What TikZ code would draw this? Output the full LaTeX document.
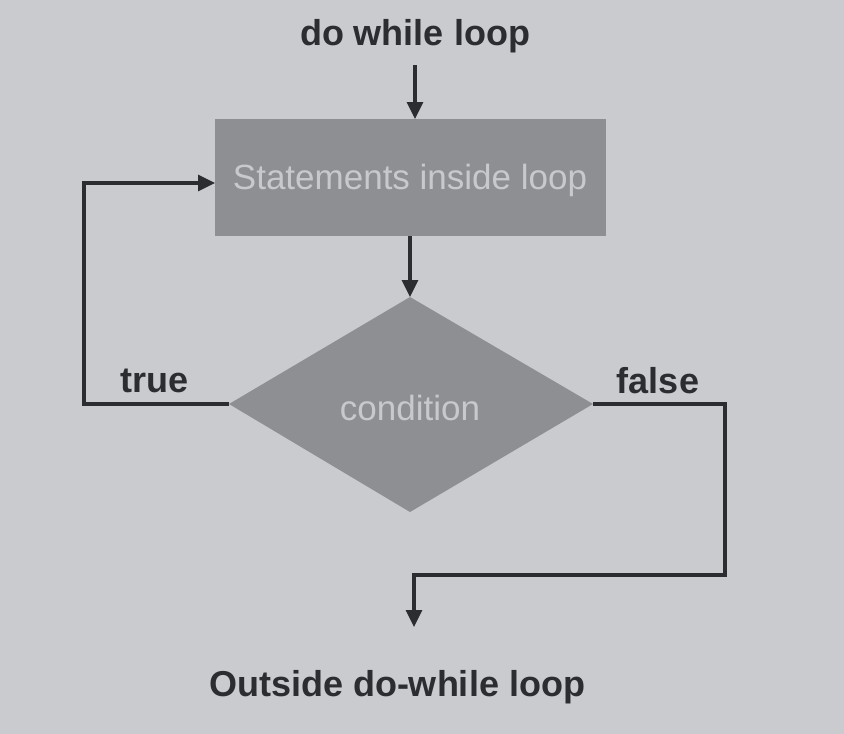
\documentclass[tikz,border=0pt]{standalone}
\usepackage{fontspec}
\setmainfont{Liberation Sans}
\usetikzlibrary{arrows.meta,shapes.geometric}
\definecolor{bg}{HTML}{CACBCE}
\definecolor{boxfill}{HTML}{8E8F92}
\definecolor{boxtext}{HTML}{C8C9CC}
\definecolor{ink}{HTML}{2B2D30}
\tikzset{
  lbl/.style={text=ink,font=\fontsize{36}{40}\selectfont\bfseries,inner sep=0pt},
  intext/.style={text=boxtext,font=\fontsize{35}{38}\selectfont,inner sep=0pt},
  conn/.style={draw=ink,line width=3.2pt},
  arr/.style={conn,-{Triangle[width=16pt,length=17pt]}},
}
\begin{document}
\begin{tikzpicture}[x=1pt,y=-1pt]
\fill[bg] (0,0) rectangle (844,734);
\useasboundingbox (0,0) rectangle (844,734);
\node[lbl] (title) at (415,36) {do while loop};
\coordinate (tstart) at (415,65);
\fill[boxfill] (215,119) rectangle (606,236);
\node[intext] (stmt) at (410,180) {Statements inside loop};
\coordinate (boxtop) at (415,119);
\coordinate (boxbot) at (410,236);
\coordinate (boxleft) at (215,183);
\fill[boxfill] (410,297) -- (593,404) -- (410,512) -- (229,404) -- cycle;
\node[intext] (cond) at (410,408) {condition};
\coordinate (dtop) at (410,297);
\coordinate (dleft) at (229,404);
\coordinate (dright) at (593,404);
\coordinate (lc1) at (84,404);
\coordinate (lc2) at (84,183);
\coordinate (rc1) at (725,404);
\coordinate (rc2) at (725,575);
\coordinate (rc3) at (414,575);
\coordinate (outarr) at (414,627);
\node[lbl] (true) at (155,381) {true};
\node[lbl] (false) at (658,381) {false};
\node[lbl] (out) at (397,687) {Outside do-while loop};
\draw[arr] (tstart) -- (boxtop);
\draw[arr] (boxbot) -- (dtop);
\draw[arr] (dleft) -- (lc1) -- (lc2) -- (boxleft);
\draw[arr] (dright) -- (rc1) -- (rc2) -- (rc3) -- (outarr);
\end{tikzpicture}
\end{document}
